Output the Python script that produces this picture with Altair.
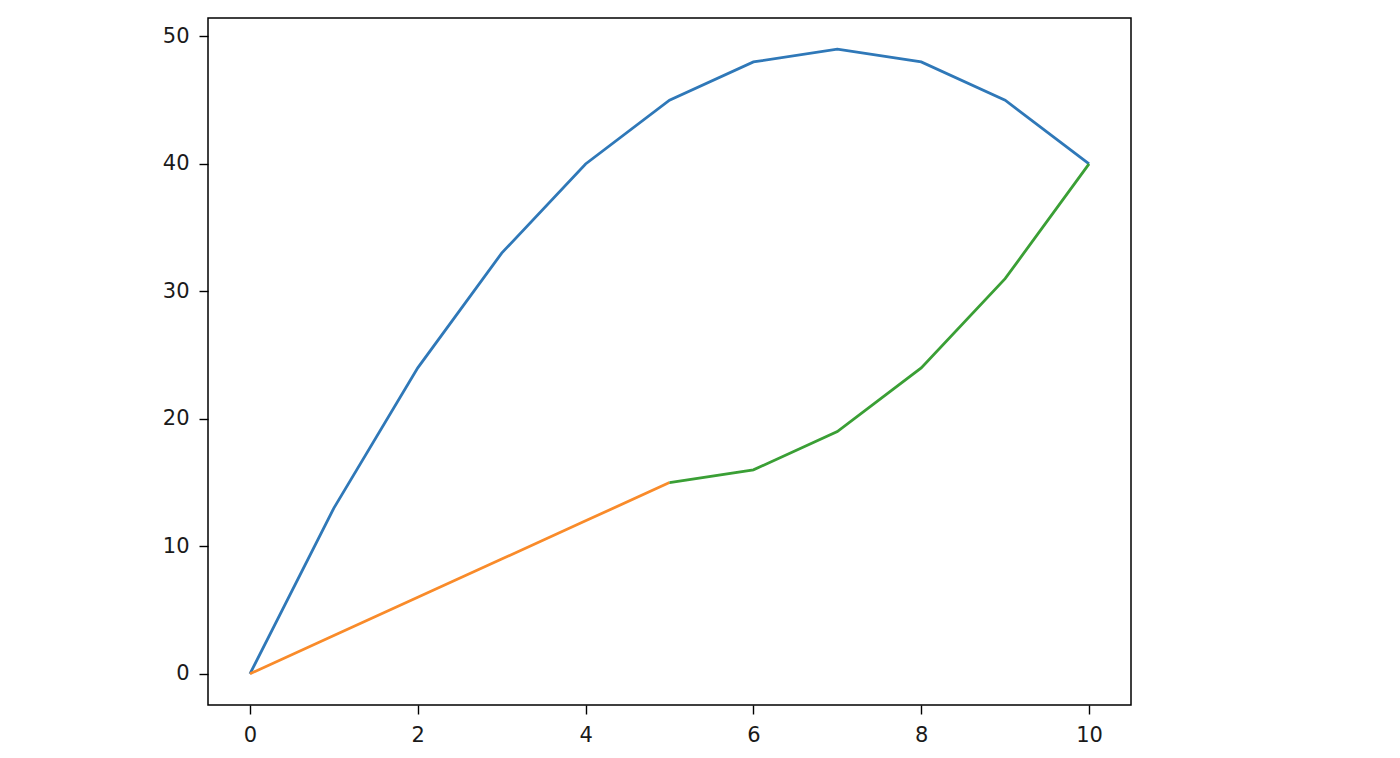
import altair as alt
import pandas as pd

# Data
x_blue = [0, 1, 2, 3, 4, 5, 6, 7, 8, 9, 10]
y_blue = [0, 13, 24, 33, 40, 45, 48, 49, 48, 45, 40]
x_orange = [0, 1, 2, 3, 4, 5]
y_orange = [0, 3, 6, 9, 12, 15]
x_green = [5, 6, 7, 8, 9, 10]
y_green = [15, 16, 19, 24, 31, 40]

x_ticks = [0, 2, 4, 6, 8, 10]
y_ticks = [0, 10, 20, 30, 40, 50]

series = [
    ("blue", x_blue, y_blue, "#2f78b8"),
    ("orange", x_orange, y_orange, "#f98b2a"),
    ("green", x_green, y_green, "#3a9f35"),
]

xscale = alt.Scale(domain=[-0.5, 10.5], nice=False, zero=False)
yscale = alt.Scale(domain=[-2.45, 51.45], nice=False, zero=False)

common_axis = dict(title=None, grid=False, domain=False,
                   tickColor="black", tickSize=9, tickWidth=1.4,
                   labelFontSize=21, labelColor="#1a1a1a", labelPadding=10,
                   labelFont="DejaVu Sans", format="d")
xaxis = alt.Axis(values=x_ticks, **common_axis)
yaxis = alt.Axis(values=y_ticks, **common_axis)

layers = []
for name, xs, ys, col in series:
    df = pd.DataFrame({"x": xs, "y": ys})
    layers.append(
        alt.Chart(df).mark_line(color=col, strokeWidth=2.8, clip=True).encode(
            x=alt.X("x:Q", scale=xscale, axis=xaxis),
            y=alt.Y("y:Q", scale=yscale, axis=yaxis),
        )
    )

chart = alt.layer(*layers).properties(
    width=923,
    height=687,
    background="white",
    autosize=alt.AutoSizeParams(type="none"),
    padding={"left": 200, "top": 10, "right": 10, "bottom": 50},
).configure_view(
    stroke="black", strokeWidth=1.5
)

chart.save("out.html", embed_options={"renderer": "svg", "actions": False})
